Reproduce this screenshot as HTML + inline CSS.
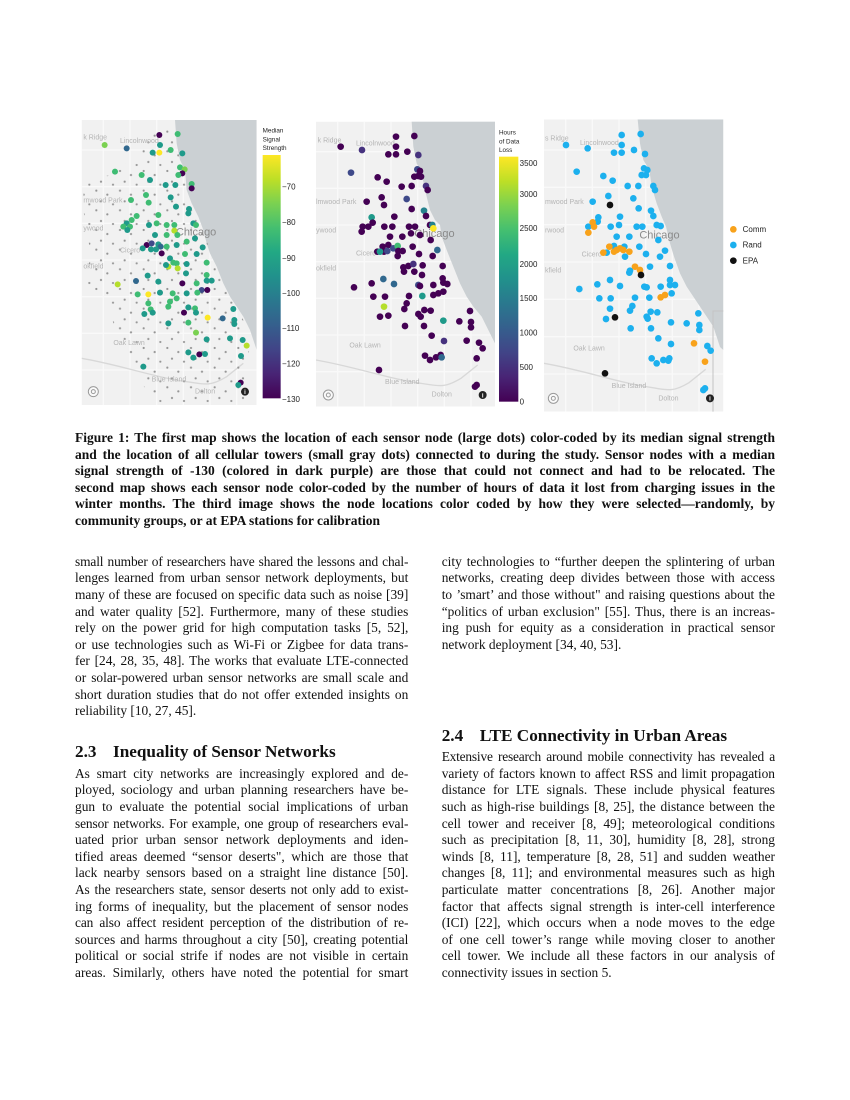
<!DOCTYPE html>
<html><head><meta charset="utf-8">
<style>
html,body{margin:0;padding:0;background:#fff;}
body{width:850px;height:1100px;position:relative;overflow:hidden;font-family:"Liberation Serif",serif;color:#111;}
svg{position:absolute;left:0;top:0;}
.blk{position:absolute;}
.blk div{white-space:nowrap;text-align:justify;text-align-last:justify;}
.blk div.e{text-align-last:left;}
.blk div.n{letter-spacing:-0.12px;}
.cap{left:75px;top:430px;width:700px;font-weight:bold;font-size:13.5px;line-height:16.5px;}
.cap div{height:16.5px;}
.body{font-size:13.4px;line-height:16.6px;width:333.3px;}
.body div{height:16.6px;}
.h{position:absolute;font-weight:bold;font-size:17.2px;line-height:20px;white-space:nowrap;}
.h span{display:inline-block;width:38px;}
.m text{font-family:"Liberation Sans","DejaVu Sans",sans-serif;}
.lab{fill:#b5b5b5;font-size:21px;}
.chi{fill:#8a8a8a;font-size:33px;}
.tk{fill:#222;font-size:24px;}
.tt{fill:#222;font-size:19px;}
.p{fill:#440154}.b2{fill:#46327e}.b{fill:#3e4989}.bl{fill:#31688e}.tl{fill:#26828e}.t{fill:#1f9a8a}.g{fill:#3fbc73}.g2{fill:#7ad151}.yg{fill:#b5de2b}.y{fill:#fde725}
.R{fill:#1cb0ee}.O{fill:#f8a21b}.K{fill:#111}
</style></head><body>
<svg width="850" height="420" viewBox="0 0 850 420" class="m">
<defs>
<linearGradient id="vir" x1="0" y1="1" x2="0" y2="0">
<stop offset="0" stop-color="#440154"/><stop offset="0.1" stop-color="#482475"/><stop offset="0.2" stop-color="#414487"/><stop offset="0.3" stop-color="#355f8d"/><stop offset="0.4" stop-color="#2a788e"/><stop offset="0.5" stop-color="#21918c"/><stop offset="0.6" stop-color="#22a884"/><stop offset="0.7" stop-color="#44bf70"/><stop offset="0.8" stop-color="#7ad151"/><stop offset="0.9" stop-color="#bddf26"/><stop offset="1" stop-color="#fde725"/>
</linearGradient>
<pattern id="tw" width="71" height="59" patternUnits="userSpaceOnUse">
<circle cx="8" cy="6" r="3.3" fill="#959595"/><circle cx="41" cy="18" r="3.3" fill="#959595"/><circle cx="22" cy="38" r="3.3" fill="#959595"/><circle cx="58" cy="47" r="3.3" fill="#959595"/>
</pattern>
<clipPath id="twc"><polygon points="40,215 120,195 180,150 250,60 310,60 330,150 345,185 350,240 385,320 405,380 440,470 480,560 520,630 545,700 525,760 525,880 260,880 200,800 170,700 130,640 110,560 50,545 60,420 40,300"/></clipPath>
<clipPath id="c1"><rect x="35" y="30" width="525" height="855"/></clipPath>
<clipPath id="c2"><rect x="48" y="35" width="537" height="855"/></clipPath>
<clipPath id="c3"><rect x="12" y="28" width="538" height="877"/></clipPath>
</defs>

<!-- MAP 1 -->
<g transform="translate(70,110) scale(0.33333)">
<g clip-path="url(#c1)">
<rect x="35" y="30" width="525" height="855" fill="#f1f1f1"/>
<g stroke="#f9f9f9" stroke-width="4">
<line x1="35" y1="120" x2="560" y2="120"/><line x1="35" y1="230" x2="560" y2="230"/><line x1="35" y1="340" x2="560" y2="340"/><line x1="35" y1="450" x2="560" y2="450"/><line x1="35" y1="560" x2="560" y2="560"/><line x1="35" y1="670" x2="560" y2="670"/><line x1="35" y1="780" x2="560" y2="780"/>
<line x1="100" y1="30" x2="100" y2="885"/><line x1="180" y1="30" x2="180" y2="885"/><line x1="260" y1="30" x2="260" y2="885"/><line x1="340" y1="30" x2="340" y2="885"/><line x1="420" y1="30" x2="420" y2="885"/><line x1="500" y1="30" x2="500" y2="885"/>
</g>
<path d="M35,745 C150,765 250,800 330,812 S420,830 470,800 L520,760" stroke="#d8d8d8" stroke-width="4" fill="none"/>
<path d="M315,30 L320,100 L330,150 L345,180 L350,240 L365,280 L385,320 L400,360 L410,400 L420,430 L440,470 L460,520 L480,560 L500,590 L520,620 L540,660 L560,720 L560,30 Z" fill="#cbd0d3"/>
<rect x="35" y="30" width="525" height="855" fill="url(#tw)" clip-path="url(#twc)"/>
<text class="lab" x="40" y="88">k Ridge</text><text class="lab" x="150" y="99">Lincolnwood</text>
<text class="lab" x="40" y="277">rnwood Park</text><text class="lab" x="40" y="362">ywood</text>
<text class="chi" x="318" y="376">Chicago</text><text class="lab" x="150" y="427">Cicero</text>
<text class="lab" x="40" y="475">okfield</text><text class="lab" x="130" y="705">Oak Lawn</text>
<text class="lab" x="245" y="815">Blue Island</text><text class="lab" x="375" y="850">Dolton</text>
<circle cx="268" cy="75" r="9" class="p"/><circle cx="323" cy="72" r="9" class="g"/><circle cx="104" cy="105" r="9" class="g2"/><circle cx="170" cy="115" r="9" class="bl"/><circle cx="270" cy="105" r="9" class="t"/><circle cx="248" cy="128" r="9" class="t"/><circle cx="268" cy="128" r="9" class="y"/><circle cx="302" cy="120" r="9" class="g"/><circle cx="337" cy="130" r="9" class="t"/><circle cx="135" cy="185" r="9" class="g"/><circle cx="215" cy="195" r="9" class="g"/><circle cx="240" cy="210" r="9" class="t"/><circle cx="330" cy="172" r="9" class="g"/><circle cx="344" cy="178" r="9" class="g2"/><circle cx="337" cy="190" r="9" class="p"/><circle cx="325" cy="195" r="9" class="g"/><circle cx="365" cy="222" r="9" class="g"/><circle cx="365" cy="235" r="9" class="p"/><circle cx="287" cy="225" r="9" class="t"/><circle cx="316" cy="225" r="9" class="t"/><circle cx="228" cy="255" r="9" class="g"/><circle cx="183" cy="270" r="9" class="g"/><circle cx="302" cy="262" r="9" class="t"/><circle cx="236" cy="278" r="9" class="g"/><circle cx="318" cy="290" r="9" class="t"/><circle cx="357" cy="297" r="9" class="t"/><circle cx="355" cy="310" r="9" class="t"/><circle cx="200" cy="318" r="9" class="g"/><circle cx="185" cy="330" r="9" class="g"/><circle cx="170" cy="340" r="9" class="t"/><circle cx="160" cy="350" r="9" class="g"/><circle cx="180" cy="350" r="9" class="g"/><circle cx="172" cy="360" r="9" class="t"/><circle cx="265" cy="315" r="9" class="g"/><circle cx="237" cy="345" r="9" class="t"/><circle cx="260" cy="340" r="9" class="g"/><circle cx="290" cy="345" r="9" class="g"/><circle cx="313" cy="345" r="9" class="g"/><circle cx="370" cy="340" r="9" class="t"/><circle cx="378" cy="345" r="9" class="g"/><circle cx="313" cy="362" r="9" class="yg"/><circle cx="290" cy="375" r="9" class="g"/><circle cx="255" cy="375" r="9" class="t"/><circle cx="322" cy="375" r="9" class="g"/><circle cx="375" cy="385" r="9" class="t"/><circle cx="230" cy="405" r="9" class="p"/><circle cx="245" cy="400" r="9" class="b"/><circle cx="265" cy="403" r="9" class="t"/><circle cx="272" cy="410" r="9" class="bl"/><circle cx="290" cy="410" r="9" class="g"/><circle cx="218" cy="415" r="9" class="t"/><circle cx="243" cy="418" r="9" class="t"/><circle cx="258" cy="418" r="9" class="t"/><circle cx="275" cy="430" r="9" class="p"/><circle cx="320" cy="405" r="9" class="t"/><circle cx="350" cy="395" r="9" class="g"/><circle cx="398" cy="412" r="9" class="t"/><circle cx="380" cy="432" r="9" class="t"/><circle cx="345" cy="432" r="9" class="g"/><circle cx="300" cy="445" r="9" class="t"/><circle cx="320" cy="460" r="9" class="g"/><circle cx="295" cy="470" r="9" class="yg"/><circle cx="323" cy="475" r="9" class="yg"/><circle cx="288" cy="465" r="9" class="t"/><circle cx="350" cy="462" r="9" class="t"/><circle cx="310" cy="458" r="9" class="g"/><circle cx="410" cy="458" r="9" class="g"/><circle cx="348" cy="490" r="9" class="t"/><circle cx="410" cy="495" r="9" class="g"/><circle cx="233" cy="497" r="9" class="t"/><circle cx="265" cy="515" r="9" class="t"/><circle cx="198" cy="513" r="9" class="bl"/><circle cx="143" cy="523" r="9" class="yg"/><circle cx="337" cy="520" r="9" class="p"/><circle cx="380" cy="520" r="9" class="g"/><circle cx="410" cy="512" r="9" class="t"/><circle cx="425" cy="512" r="9" class="t"/><circle cx="395" cy="540" r="9" class="b"/><circle cx="412" cy="540" r="9" class="p"/><circle cx="382" cy="548" r="9" class="g"/><circle cx="350" cy="550" r="9" class="t"/><circle cx="308" cy="550" r="9" class="g"/><circle cx="270" cy="548" r="9" class="t"/><circle cx="235" cy="553" r="9" class="y"/><circle cx="203" cy="553" r="9" class="g"/><circle cx="235" cy="580" r="9" class="g"/><circle cx="300" cy="575" r="9" class="g"/><circle cx="295" cy="590" r="9" class="g"/><circle cx="320" cy="565" r="9" class="g"/><circle cx="242" cy="598" r="9" class="g"/><circle cx="375" cy="595" r="9" class="g"/><circle cx="355" cy="592" r="9" class="t"/><circle cx="342" cy="608" r="9" class="p"/><circle cx="378" cy="608" r="9" class="t"/><circle cx="223" cy="612" r="9" class="t"/><circle cx="248" cy="608" r="9" class="t"/><circle cx="413" cy="623" r="9" class="y"/><circle cx="458" cy="625" r="9" class="bl"/><circle cx="490" cy="597" r="9" class="t"/><circle cx="493" cy="630" r="9" class="t"/><circle cx="493" cy="642" r="9" class="t"/><circle cx="295" cy="640" r="9" class="t"/><circle cx="355" cy="638" r="9" class="g"/><circle cx="378" cy="668" r="9" class="g2"/><circle cx="410" cy="688" r="9" class="t"/><circle cx="480" cy="685" r="9" class="t"/><circle cx="518" cy="690" r="9" class="t"/><circle cx="530" cy="707" r="9" class="yg"/><circle cx="513" cy="738" r="9" class="t"/><circle cx="355" cy="727" r="9" class="t"/><circle cx="370" cy="743" r="9" class="t"/><circle cx="388" cy="733" r="9" class="p"/><circle cx="405" cy="732" r="9" class="t"/><circle cx="220" cy="770" r="9" class="t"/><circle cx="512" cy="818" r="9" class="p"/><circle cx="505" cy="825" r="9" class="t"/>
<circle cx="70" cy="845" r="15" fill="#fafafa" stroke="#9a9a9a" stroke-width="3"/><circle cx="70" cy="845" r="6" fill="none" stroke="#9a9a9a" stroke-width="3"/>
<circle cx="525" cy="845" r="12" fill="#222"/><text x="525" y="852" fill="#fff" font-size="18" font-weight="bold" text-anchor="middle">i</text>
</g>
<rect x="578" y="135" width="54" height="730" fill="url(#vir)"/>
<text class="tt" x="578" y="68">Median</text><text class="tt" x="578" y="94">Signal</text><text class="tt" x="578" y="120">Strength</text>
<text class="tk" x="636" y="238">−70</text><text class="tk" x="636" y="345">−80</text><text class="tk" x="636" y="453">−90</text><text class="tk" x="636" y="558">−100</text><text class="tk" x="636" y="663">−110</text><text class="tk" x="636" y="770">−120</text><text class="tk" x="636" y="876">−130</text>
</g>

<!-- MAP 2 -->
<g transform="translate(300,110) scale(0.33333)">
<g clip-path="url(#c2)">
<rect x="48" y="35" width="537" height="855" fill="#f1f1f1"/>
<g stroke="#f9f9f9" stroke-width="4">
<line x1="48" y1="125" x2="585" y2="125"/><line x1="48" y1="235" x2="585" y2="235"/><line x1="48" y1="345" x2="585" y2="345"/><line x1="48" y1="455" x2="585" y2="455"/><line x1="48" y1="565" x2="585" y2="565"/><line x1="48" y1="675" x2="585" y2="675"/><line x1="48" y1="785" x2="585" y2="785"/>
<line x1="113" y1="35" x2="113" y2="890"/><line x1="193" y1="35" x2="193" y2="890"/><line x1="273" y1="35" x2="273" y2="890"/><line x1="353" y1="35" x2="353" y2="890"/><line x1="433" y1="35" x2="433" y2="890"/><line x1="513" y1="35" x2="513" y2="890"/>
</g>
<path d="M48,750 C163,770 263,805 343,817 S433,835 483,805 L533,765" stroke="#d8d8d8" stroke-width="4" fill="none"/>
<path d="M335,35 L340,110 L350,160 L365,190 L375,240 L390,300 L405,330 L420,345 L425,380 L440,420 L460,470 L480,520 L500,560 L520,590 L545,620 L565,660 L585,700 L585,35 Z" fill="#cbd0d3"/>
<text class="lab" x="53" y="97">k Ridge</text><text class="lab" x="168" y="107">Lincolnwood</text>
<text class="lab" x="48" y="282">lmwood Park</text><text class="lab" x="48" y="367">ywood</text>
<text class="chi" x="343" y="381">Chicago</text><text class="lab" x="168" y="437">Cicero</text>
<text class="lab" x="48" y="482">okfield</text><text class="lab" x="148" y="712">Oak Lawn</text>
<text class="lab" x="255" y="822">Blue Island</text><text class="lab" x="395" y="860">Dolton</text>
<g>
<circle cx="288" cy="80" r="10" class="p"/><circle cx="343" cy="78" r="10" class="p"/><circle cx="122" cy="110" r="10" class="p"/><circle cx="186" cy="120" r="10" class="b2"/><circle cx="288" cy="110" r="10" class="p"/><circle cx="265" cy="133" r="10" class="p"/><circle cx="288" cy="133" r="10" class="p"/><circle cx="322" cy="125" r="10" class="p"/><circle cx="355" cy="135" r="10" class="b2"/><circle cx="153" cy="188" r="10" class="b"/><circle cx="352" cy="178" r="10" class="b"/><circle cx="360" cy="183" r="10" class="p"/><circle cx="343" cy="200" r="10" class="p"/><circle cx="355" cy="198" r="10" class="p"/><circle cx="363" cy="200" r="10" class="p"/><circle cx="233" cy="202" r="10" class="p"/><circle cx="260" cy="215" r="10" class="p"/><circle cx="305" cy="230" r="10" class="p"/><circle cx="335" cy="228" r="10" class="p"/><circle cx="378" cy="228" r="10" class="b2"/><circle cx="383" cy="240" r="10" class="p"/><circle cx="245" cy="262" r="10" class="p"/><circle cx="200" cy="275" r="10" class="p"/><circle cx="320" cy="267" r="10" class="b"/><circle cx="252" cy="285" r="10" class="p"/><circle cx="335" cy="297" r="10" class="p"/><circle cx="372" cy="302" r="10" class="tl"/><circle cx="378" cy="318" r="10" class="p"/><circle cx="215" cy="322" r="10" class="t"/><circle cx="283" cy="320" r="10" class="p"/><circle cx="188" cy="350" r="10" class="p"/><circle cx="185" cy="365" r="10" class="p"/><circle cx="205" cy="350" r="10" class="p"/><circle cx="218" cy="338" r="10" class="p"/><circle cx="253" cy="350" r="10" class="p"/><circle cx="277" cy="350" r="10" class="p"/><circle cx="327" cy="350" r="10" class="p"/><circle cx="345" cy="350" r="10" class="p"/><circle cx="390" cy="345" r="10" class="p"/><circle cx="397" cy="345" r="10" class="tl"/><circle cx="400" cy="355" r="10" class="y"/><circle cx="270" cy="380" r="10" class="p"/><circle cx="307" cy="380" r="10" class="p"/><circle cx="333" cy="370" r="10" class="p"/><circle cx="392" cy="390" r="10" class="p"/><circle cx="360" cy="375" r="10" class="p"/><circle cx="248" cy="410" r="10" class="p"/><circle cx="265" cy="405" r="10" class="p"/><circle cx="232" cy="425" r="10" class="p"/><circle cx="252" cy="425" r="10" class="p"/><circle cx="240" cy="425" r="10" class="t"/><circle cx="262" cy="423" r="10" class="b"/><circle cx="280" cy="415" r="10" class="b"/><circle cx="293" cy="408" r="10" class="g"/><circle cx="295" cy="423" r="10" class="p"/><circle cx="293" cy="438" r="10" class="p"/><circle cx="308" cy="423" r="10" class="p"/><circle cx="338" cy="410" r="10" class="p"/><circle cx="357" cy="432" r="10" class="p"/><circle cx="398" cy="438" r="10" class="p"/><circle cx="412" cy="420" r="10" class="bl"/><circle cx="325" cy="468" r="10" class="p"/><circle cx="310" cy="472" r="10" class="p"/><circle cx="312" cy="485" r="10" class="p"/><circle cx="340" cy="462" r="10" class="b2"/><circle cx="343" cy="485" r="10" class="p"/><circle cx="368" cy="466" r="10" class="p"/><circle cx="428" cy="468" r="10" class="p"/><circle cx="366" cy="495" r="10" class="p"/><circle cx="428" cy="505" r="10" class="p"/><circle cx="430" cy="518" r="10" class="p"/><circle cx="442" cy="522" r="10" class="p"/><circle cx="400" cy="525" r="10" class="p"/><circle cx="355" cy="525" r="10" class="b"/><circle cx="360" cy="528" r="10" class="p"/><circle cx="250" cy="507" r="10" class="bl"/><circle cx="282" cy="522" r="10" class="bl"/><circle cx="162" cy="532" r="10" class="p"/><circle cx="215" cy="520" r="10" class="p"/><circle cx="220" cy="560" r="10" class="p"/><circle cx="255" cy="560" r="10" class="p"/><circle cx="327" cy="558" r="10" class="p"/><circle cx="367" cy="558" r="10" class="t"/><circle cx="400" cy="555" r="10" class="p"/><circle cx="415" cy="550" r="10" class="p"/><circle cx="430" cy="545" r="10" class="p"/><circle cx="252" cy="590" r="10" class="yg"/><circle cx="320" cy="580" r="10" class="p"/><circle cx="313" cy="597" r="10" class="p"/><circle cx="240" cy="620" r="10" class="p"/><circle cx="265" cy="617" r="10" class="p"/><circle cx="355" cy="612" r="10" class="p"/><circle cx="362" cy="620" r="10" class="p"/><circle cx="373" cy="600" r="10" class="p"/><circle cx="392" cy="602" r="10" class="p"/><circle cx="315" cy="648" r="10" class="p"/><circle cx="372" cy="648" r="10" class="p"/><circle cx="430" cy="632" r="10" class="t"/><circle cx="478" cy="634" r="10" class="p"/><circle cx="510" cy="603" r="10" class="p"/><circle cx="513" cy="636" r="10" class="p"/><circle cx="513" cy="652" r="10" class="p"/><circle cx="395" cy="677" r="10" class="p"/><circle cx="432" cy="693" r="10" class="b2"/><circle cx="500" cy="692" r="10" class="p"/><circle cx="537" cy="698" r="10" class="p"/><circle cx="548" cy="715" r="10" class="p"/><circle cx="375" cy="737" r="10" class="p"/><circle cx="390" cy="750" r="10" class="p"/><circle cx="408" cy="742" r="10" class="p"/><circle cx="422" cy="735" r="10" class="p"/><circle cx="425" cy="742" r="10" class="bl"/><circle cx="530" cy="745" r="10" class="p"/><circle cx="237" cy="780" r="10" class="p"/><circle cx="530" cy="825" r="10" class="p"/><circle cx="525" cy="830" r="10" class="p"/>
</g>
<circle cx="85" cy="855" r="15" fill="#fafafa" stroke="#9a9a9a" stroke-width="3"/><circle cx="85" cy="855" r="6" fill="none" stroke="#9a9a9a" stroke-width="3"/>
<circle cx="548" cy="855" r="12" fill="#222"/><text x="548" y="862" fill="#fff" font-size="18" font-weight="bold" text-anchor="middle">i</text>
</g>
<rect x="597" y="140" width="58" height="735" fill="url(#vir)"/>
<text class="tt" x="597" y="74">Hours</text><text class="tt" x="597" y="100">of Data</text><text class="tt" x="597" y="126">Loss</text>
<text class="tk" x="659" y="168">3500</text><text class="tk" x="659" y="261">3000</text><text class="tk" x="659" y="363">2500</text><text class="tk" x="659" y="471">2000</text><text class="tk" x="659" y="573">1500</text><text class="tk" x="659" y="676">1000</text><text class="tk" x="659" y="780">500</text><text class="tk" x="659" y="883">0</text>
</g>

<!-- MAP 3 -->
<g transform="translate(540,110) scale(0.33333)">
<g clip-path="url(#c3)">
<rect x="12" y="28" width="538" height="877" fill="#f1f1f1"/>
<g stroke="#f9f9f9" stroke-width="4">
<line x1="12" y1="120" x2="550" y2="120"/><line x1="12" y1="232" x2="550" y2="232"/><line x1="12" y1="344" x2="550" y2="344"/><line x1="12" y1="456" x2="550" y2="456"/><line x1="12" y1="568" x2="550" y2="568"/><line x1="12" y1="680" x2="550" y2="680"/><line x1="12" y1="792" x2="550" y2="792"/>
<line x1="77" y1="28" x2="77" y2="905"/><line x1="157" y1="28" x2="157" y2="905"/><line x1="237" y1="28" x2="237" y2="905"/><line x1="317" y1="28" x2="317" y2="905"/><line x1="397" y1="28" x2="397" y2="905"/><line x1="477" y1="28" x2="477" y2="905"/>
</g>
<path d="M12,760 C127,780 227,815 307,828 S397,848 447,818 L497,778" stroke="#d8d8d8" stroke-width="4" fill="none"/>
<path d="M293,28 L300,100 L310,150 L328,180 L335,230 L350,280 L365,320 L378,350 L390,400 L402,440 L420,490 L440,530 L460,560 L480,590 L500,620 L520,650 L540,711 L550,720 L550,28 Z" fill="#cbd0d3"/>
<rect x="519" y="603" width="40" height="310" fill="none" stroke="#c4c4c4" stroke-width="3"/>
<text class="lab" x="15" y="92">s Ridge</text><text class="lab" x="120" y="105">Lincolnwood</text>
<text class="lab" x="15" y="282">mwood Park</text><text class="lab" x="15" y="367">rwood</text>
<text class="chi" x="298" y="386">Chicago</text><text class="lab" x="125" y="439">Cicero</text>
<text class="lab" x="15" y="487">kfield</text><text class="lab" x="100" y="722">Oak Lawn</text>
<text class="lab" x="215" y="834">Blue Island</text><text class="lab" x="355" y="872">Dolton</text>
<g>
<circle cx="245" cy="75" r="10" class="R"/><circle cx="302" cy="72" r="10" class="R"/><circle cx="78" cy="105" r="10" class="R"/><circle cx="143" cy="115" r="10" class="R"/><circle cx="245" cy="105" r="10" class="R"/><circle cx="222" cy="128" r="10" class="R"/><circle cx="245" cy="128" r="10" class="R"/><circle cx="282" cy="120" r="10" class="R"/><circle cx="315" cy="132" r="10" class="R"/><circle cx="110" cy="185" r="10" class="R"/><circle cx="190" cy="198" r="10" class="R"/><circle cx="218" cy="212" r="10" class="R"/><circle cx="312" cy="175" r="10" class="R"/><circle cx="322" cy="180" r="10" class="R"/><circle cx="305" cy="195" r="10" class="R"/><circle cx="318" cy="195" r="10" class="R"/><circle cx="263" cy="228" r="10" class="R"/><circle cx="295" cy="228" r="10" class="R"/><circle cx="340" cy="228" r="10" class="R"/><circle cx="345" cy="240" r="10" class="R"/><circle cx="205" cy="258" r="10" class="R"/><circle cx="158" cy="275" r="10" class="R"/><circle cx="280" cy="265" r="10" class="R"/><circle cx="240" cy="320" r="10" class="R"/><circle cx="296" cy="295" r="10" class="R"/><circle cx="333" cy="302" r="10" class="R"/><circle cx="340" cy="318" r="10" class="R"/><circle cx="175" cy="322" r="10" class="R"/><circle cx="173" cy="335" r="10" class="R"/><circle cx="145" cy="350" r="10" class="R"/><circle cx="212" cy="350" r="10" class="R"/><circle cx="237" cy="345" r="10" class="R"/><circle cx="290" cy="350" r="10" class="R"/><circle cx="307" cy="350" r="10" class="R"/><circle cx="350" cy="345" r="10" class="R"/><circle cx="362" cy="348" r="10" class="R"/><circle cx="230" cy="380" r="10" class="R"/><circle cx="268" cy="380" r="10" class="R"/><circle cx="298" cy="410" r="10" class="R"/><circle cx="355" cy="390" r="10" class="R"/><circle cx="222" cy="408" r="10" class="R"/><circle cx="253" cy="410" r="10" class="R"/><circle cx="318" cy="432" r="10" class="R"/><circle cx="360" cy="440" r="10" class="R"/><circle cx="375" cy="422" r="10" class="R"/><circle cx="255" cy="440" r="10" class="R"/><circle cx="200" cy="428" r="10" class="R"/><circle cx="270" cy="482" r="10" class="R"/><circle cx="268" cy="488" r="10" class="R"/><circle cx="330" cy="470" r="10" class="R"/><circle cx="390" cy="468" r="10" class="R"/><circle cx="210" cy="510" r="10" class="R"/><circle cx="240" cy="528" r="10" class="R"/><circle cx="313" cy="530" r="10" class="R"/><circle cx="320" cy="532" r="10" class="R"/><circle cx="362" cy="530" r="10" class="R"/><circle cx="390" cy="510" r="10" class="R"/><circle cx="390" cy="525" r="10" class="R"/><circle cx="405" cy="525" r="10" class="R"/><circle cx="395" cy="550" r="10" class="R"/><circle cx="118" cy="537" r="10" class="R"/><circle cx="172" cy="523" r="10" class="R"/><circle cx="178" cy="565" r="10" class="R"/><circle cx="212" cy="565" r="10" class="R"/><circle cx="285" cy="563" r="10" class="R"/><circle cx="328" cy="563" r="10" class="R"/><circle cx="277" cy="588" r="10" class="R"/><circle cx="270" cy="602" r="10" class="R"/><circle cx="210" cy="596" r="10" class="R"/><circle cx="332" cy="605" r="10" class="R"/><circle cx="352" cy="607" r="10" class="R"/><circle cx="320" cy="620" r="10" class="R"/><circle cx="323" cy="626" r="10" class="R"/><circle cx="198" cy="627" r="10" class="R"/><circle cx="272" cy="655" r="10" class="R"/><circle cx="333" cy="655" r="10" class="R"/><circle cx="393" cy="637" r="10" class="R"/><circle cx="440" cy="640" r="10" class="R"/><circle cx="475" cy="610" r="10" class="R"/><circle cx="478" cy="645" r="10" class="R"/><circle cx="478" cy="660" r="10" class="R"/><circle cx="355" cy="685" r="10" class="R"/><circle cx="393" cy="702" r="10" class="R"/><circle cx="502" cy="708" r="10" class="R"/><circle cx="512" cy="722" r="10" class="R"/><circle cx="335" cy="745" r="10" class="R"/><circle cx="350" cy="760" r="10" class="R"/><circle cx="370" cy="750" r="10" class="R"/><circle cx="385" cy="752" r="10" class="R"/><circle cx="388" cy="745" r="10" class="R"/><circle cx="490" cy="840" r="10" class="R"/><circle cx="495" cy="835" r="10" class="R"/>
<circle cx="158" cy="337" r="10" class="O"/><circle cx="162" cy="350" r="10" class="O"/><circle cx="145" cy="368" r="10" class="O"/><circle cx="208" cy="410" r="10" class="O"/><circle cx="230" cy="420" r="10" class="O"/><circle cx="190" cy="428" r="10" class="O"/><circle cx="222" cy="425" r="10" class="O"/><circle cx="240" cy="415" r="10" class="O"/><circle cx="250" cy="420" r="10" class="O"/><circle cx="268" cy="425" r="10" class="O"/><circle cx="285" cy="470" r="10" class="O"/><circle cx="300" cy="480" r="10" class="O"/><circle cx="362" cy="562" r="10" class="O"/><circle cx="375" cy="555" r="10" class="O"/><circle cx="462" cy="700" r="10" class="O"/><circle cx="495" cy="755" r="10" class="O"/>
<circle cx="210" cy="285" r="10" class="K"/><circle cx="303" cy="495" r="10" class="K"/><circle cx="225" cy="622" r="10" class="K"/><circle cx="195" cy="790" r="10" class="K"/>
</g>
<circle cx="40" cy="865" r="15" fill="#fafafa" stroke="#9a9a9a" stroke-width="3"/><circle cx="40" cy="865" r="6" fill="none" stroke="#9a9a9a" stroke-width="3"/>
<circle cx="510" cy="865" r="12" fill="#222"/><text x="510" y="872" fill="#fff" font-size="18" font-weight="bold" text-anchor="middle">i</text>
</g>
<circle cx="580" cy="358" r="10" class="O"/><circle cx="580" cy="405" r="10" class="R"/><circle cx="580" cy="452" r="10" class="K"/>
<text class="tk" x="608" y="366" font-size="25">Comm</text><text class="tk" x="608" y="413" font-size="25">Rand</text><text class="tk" x="608" y="460" font-size="25">EPA</text>
</g>
</svg>

<div class="blk cap">
<div>Figure 1: The first map shows the location of each sensor node (large dots) color-coded by its median signal strength</div>
<div>and the location of all cellular towers (small gray dots) connected to during the study. Sensor nodes with a median</div>
<div>signal strength of -130 (colored in dark purple) are those that could not connect and had to be relocated. The</div>
<div>second map shows each sensor node color-coded by the number of hours of data it lost from charging issues in the</div>
<div>winter months. The third image shows the node locations color coded by how they were selected—randomly, by</div>
<div class="e">community groups, or at EPA stations for calibration</div>
</div>

<div class="blk body" style="left:75px;top:553.8px;">
<div class="n">small number of researchers have shared the lessons and chal-</div>
<div>lenges learned from urban sensor network deployments, but</div>
<div>many of these are focused on specific data such as noise [39]</div>
<div>and water quality [52]. Furthermore, many of these studies</div>
<div>rely on the power grid for high computation tasks [5, 52],</div>
<div>or use technologies such as Wi-Fi or Zigbee for data trans-</div>
<div>fer [24, 28, 35, 48]. The works that evaluate LTE-connected</div>
<div>or solar-powered urban sensor networks are small scale and</div>
<div>short duration studies that do not offer extended insights on</div>
<div class="e">reliability [10, 27, 45].</div>
</div>

<div class="h" style="left:75px;top:741.6px;"><span>2.3</span>Inequality of Sensor Networks</div>

<div class="blk body" style="left:75px;top:765.8px;">
<div>As smart city networks are increasingly explored and de-</div>
<div>ployed, sociology and urban planning researchers have be-</div>
<div>gun to evaluate the potential social implications of urban</div>
<div class="n">sensor networks. For example, one group of researchers eval-</div>
<div>uated prior urban sensor network deployments and iden-</div>
<div>tified areas deemed “sensor deserts", which are those that</div>
<div>lack nearby sensors based on a straight line distance [50].</div>
<div class="n">As the researchers state, sensor deserts not only add to exist-</div>
<div>ing forms of inequality, but the placement of sensor nodes</div>
<div class="n">can also affect resident perception of the distribution of re-</div>
<div>sources and harms throughout a city [50], creating potential</div>
<div>political or social strife if nodes are not visible in certain</div>
<div>areas. Similarly, others have noted the potential for smart</div>
</div>

<div class="blk body" style="left:441.7px;top:553.8px;">
<div>city technologies to “further deepen the splintering of urban</div>
<div>networks, creating deep divides between those with access</div>
<div>to ’smart’ and those without" and raising questions about the</div>
<div>“politics of urban exclusion" [55]. Thus, there is an increas-</div>
<div>ing push for equity as a consideration in practical sensor</div>
<div class="e">network deployment [34, 40, 53].</div>
</div>

<div class="h" style="left:441.7px;top:725.6px;"><span>2.4</span>LTE Connectivity in Urban Areas</div>

<div class="blk body" style="left:441.7px;top:749.2px;">
<div class="n" style="letter-spacing:-0.2px">Extensive research around mobile connectivity has revealed a</div>
<div>variety of factors known to affect RSS and limit propagation</div>
<div>distance for LTE signals. These include physical features</div>
<div>such as high-rise buildings [8, 25], the distance between the</div>
<div>cell tower and receiver [8, 49]; meteorological conditions</div>
<div>such as precipitation [8, 11, 30], humidity [8, 28], strong</div>
<div>winds [8, 11], temperature [8, 28, 51] and sudden weather</div>
<div>changes [8, 11]; and environmental measures such as high</div>
<div>particulate matter concentrations [8, 26]. Another major</div>
<div>factor that affects signal strength is inter-cell interference</div>
<div>(ICI) [22], which occurs when a node moves to the edge</div>
<div>of one cell tower’s range while moving closer to another</div>
<div>cell tower. We include all these factors in our analysis of</div>
<div class="e">connectivity issues in section 5.</div>
</div>
</body></html>
